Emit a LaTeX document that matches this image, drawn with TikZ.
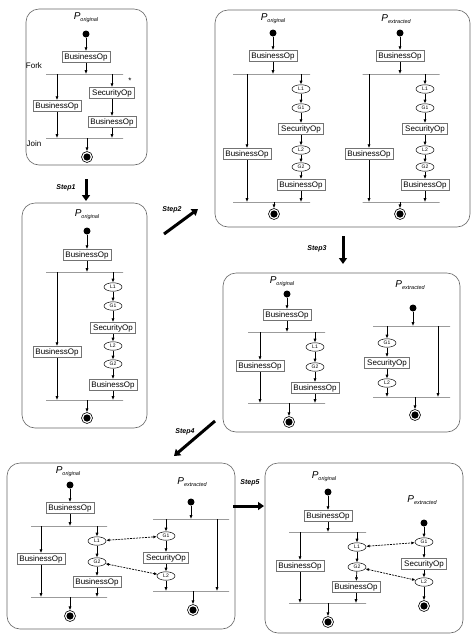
\documentclass[tikz,border=0pt]{standalone}
\usepackage{fontspec}
\setmainfont{Liberation Sans}
\usetikzlibrary{arrows.meta,shapes.geometric}

\newcommand{\psub}[1]{\raisebox{-1.8pt}{\fontsize{5.5}{6}\selectfont #1}}

\tikzset{
  panel/.style={draw=black!60, line width=0.6pt, rounded corners=13pt},
  op/.style={draw=black!55, line width=0.8pt, fill=white, inner xsep=2.5pt, inner ysep=1.5pt,
    minimum height=11pt, font=\fontsize{8}{9}\selectfont},
  guard/.style={ellipse, draw, line width=0.5pt, fill=white, minimum width=18pt, minimum height=8.5pt,
    inner sep=0pt, font=\fontsize{5}{5}\selectfont},
  init/.style={circle, fill, minimum size=7pt, inner sep=0pt},
  final/.style={circle, draw, line width=0.6pt, minimum size=11pt, inner sep=0pt,
    path picture={\fill (path picture bounding box.center) circle (3.6pt);}},
  bar/.style={draw=black!60, line width=0.9pt, minimum height=0pt, minimum width=77pt, inner sep=0pt},
  plabel/.style={font=\fontsize{10}{11}\selectfont\itshape, inner sep=0pt},
  txt/.style={font=\fontsize{8}{9}\selectfont, inner sep=0pt},
  steplbl/.style={font=\fontsize{7}{8}\selectfont\bfseries\itshape, inner sep=0pt},
  flow/.style={-{Latex[length=3.8pt,width=3.2pt]}, line width=0.7pt},
  link/.style={{Latex[length=3.5pt,width=3pt]}-{Latex[length=3.5pt,width=3pt]}, line width=0.7pt,
    dash pattern=on 2pt off 1pt},
  stepar/.style={-{Triangle[length=6pt,width=8pt]}, line width=3pt}
}

\begin{document}
\begin{tikzpicture}[x=1pt,y=-1pt]
\useasboundingbox (0,0) rectangle (474,641);

% frames
\draw[panel] (26,9) rectangle (147,165);
\draw[panel] (22,203) rectangle (147,428);
\draw[panel] (215,10) rectangle (470,227);
\draw[panel] (223,273) rectangle (460,432);
\draw[panel] (7,463) rectangle (235,629);
\draw[panel] (265,463) rectangle (463,633);

% ---- first process
\node[plabel] (pA) at (86,18) {P\psub{original}};
\node[init] (sA) at (86,34) {};
\node[op] (bA1) at (86,57) {BusinessOp};
\node[bar] (forkA) at (84.5,74) {};
\node[txt] (forkLbl) at (34,66) {Fork};
\node[op] (bA2) at (57,106) {BusinessOp};
\node[op] (secA) at (112,93) {SecurityOp};
\node[txt] (star) at (130,81) {*};
\node[op] (bA3) at (112,122) {BusinessOp};
\node[bar] (joinA) at (84.5,138) {};
\node[txt] (joinLbl) at (34,144) {Join};
\node[final] (eA) at (87,157) {};
\draw[flow] (sA) -- (bA1);
\draw[flow] (bA1) -- (bA1 |- forkA);
\draw[flow] (bA2 |- forkA) -- (bA2);
\draw[flow] (secA |- forkA) -- (secA);
\draw[flow] (secA) -- (bA3);
\draw[flow] (bA2) -- (bA2 |- joinA);
\draw[flow] (bA3) -- (bA3 |- joinA);
\draw[flow] (eA |- joinA) -- (eA);

% step 1
\node[steplbl] (st1) at (66,188) {Step1};
\coordinate (st1a) at (86,179);
\coordinate (st1b) at (86,201);
\draw[stepar] (st1a) -- (st1b);

% ---- after step 1
\node[plabel] (pB) at (87,215) {P\psub{original}};
\node[init] (sB) at (87,231) {};
\node[op] (bB1) at (87,255) {BusinessOp};
\node[bar] (forkB) at (84.5,272) {};
\node[op] (bB2) at (57,352) {BusinessOp};
\node[guard] (lB1) at (113,287) {L1};
\node[guard] (gB1) at (113,306) {G1};
\node[op] (secB) at (113,328) {SecurityOp};
\node[guard] (lB2) at (113,346) {L2};
\node[guard] (gB2) at (113,364) {G2};
\node[op] (bB3) at (113,385) {BusinessOp};
\node[bar] (joinB) at (84.5,400) {};
\node[final] (eB) at (87,418) {};
\draw[flow] (sB) -- (bB1);
\draw[flow] (bB1) -- (bB1 |- forkB);
\draw[flow] (bB2 |- forkB) -- (bB2);
\draw[flow] (lB1 |- forkB) -- (lB1);
\draw[flow] (lB1) -- (gB1);
\draw[flow] (gB1) -- (secB);
\draw[flow] (secB) -- (lB2);
\draw[flow] (lB2) -- (gB2);
\draw[flow] (gB2) -- (bB3);
\draw[flow] (bB2) -- (bB2 |- joinB);
\draw[flow] (bB3) -- (bB3 |- joinB);
\draw[flow] (eB |- joinB) -- (eB);

% step 2
\node[steplbl] (st2) at (172,210) {Step2};
\coordinate (st2a) at (164,234);
\coordinate (st2b) at (198,209);
\draw[stepar] (st2a) -- (st2b);

% ---- after step 2
\node[plabel] (pC1) at (273,19) {P\psub{original}};
\node[init] (sC1) at (273,33) {};
\node[op] (bC1) at (273,56) {BusinessOp};
\node[bar] (forkC1) at (271.5,74) {};
\node[op] (bC2) at (247,154) {BusinessOp};
\node[guard] (lC1) at (301,89) {L1};
\node[guard] (gC1) at (301,108) {G1};
\node[op] (secC1) at (301,129) {SecurityOp};
\node[guard] (lC2) at (301,150) {L2};
\node[guard] (gC2) at (301,167) {G2};
\node[op] (bC3) at (301,185) {BusinessOp};
\node[bar] (joinC1) at (271.5,202) {};
\node[final] (eC1) at (274,214) {};
\draw[flow] (sC1) -- (bC1);
\draw[flow] (bC1) -- (bC1 |- forkC1);
\draw[flow] (bC2 |- forkC1) -- (bC2);
\draw[flow] (lC1 |- forkC1) -- (lC1);
\draw[flow] (lC1) -- (gC1);
\draw[flow] (gC1) -- (secC1);
\draw[flow] (secC1) -- (lC2);
\draw[flow] (lC2) -- (gC2);
\draw[flow] (gC2) -- (bC3);
\draw[flow] (bC2) -- (bC2 |- joinC1);
\draw[flow] (bC3) -- (bC3 |- joinC1);
\draw[flow] (eC1 |- joinC1) -- (eC1);

\node[plabel] (pC2) at (396,19) {P\psub{extracted}};
\node[init] (sC2) at (400,33) {};
\node[op] (bC4) at (400,56) {BusinessOp};
\node[bar] (forkC2) at (401,74) {};
\node[op] (bC5) at (369,154) {BusinessOp};
\node[guard] (lC3) at (425,89) {L1};
\node[guard] (gC3) at (425,108) {G1};
\node[op] (secC2) at (425,129) {SecurityOp};
\node[guard] (lC4) at (425,150) {L2};
\node[guard] (gC4) at (425,167) {G2};
\node[op] (bC6) at (425,185) {BusinessOp};
\node[bar] (joinC2) at (401,202) {};
\node[final] (eC2) at (400,214) {};
\draw[flow] (sC2) -- (bC4);
\draw[flow] (bC4) -- (bC4 |- forkC2);
\draw[flow] (bC5 |- forkC2) -- (bC5);
\draw[flow] (lC3 |- forkC2) -- (lC3);
\draw[flow] (lC3) -- (gC3);
\draw[flow] (gC3) -- (secC2);
\draw[flow] (secC2) -- (lC4);
\draw[flow] (lC4) -- (gC4);
\draw[flow] (gC4) -- (bC6);
\draw[flow] (bC5) -- (bC5 |- joinC2);
\draw[flow] (bC6) -- (bC6 |- joinC2);
\draw[flow] (eC2 |- joinC2) -- (eC2);

% step 3
\node[steplbl] (st3) at (317,249) {Step3};
\coordinate (st3a) at (343,236);
\coordinate (st3b) at (343,264);
\draw[stepar] (st3a) -- (st3b);

% ---- after step 3
\node[plabel] (pD1) at (282,282) {P\psub{original}};
\node[init] (sD1) at (287,294) {};
\node[op] (bD1) at (287,315) {BusinessOp};
\node[bar] (forkD1) at (286.5,332) {};
\node[op] (bD2) at (260,366) {BusinessOp};
\node[guard] (lD1) at (315,347) {L1};
\node[guard] (gD1) at (315,367) {G2};
\node[op] (bD3) at (315,388) {BusinessOp};
\node[bar] (joinD1) at (286.5,403) {};
\node[final] (eD1) at (289,422) {};
\draw[flow] (sD1) -- (bD1);
\draw[flow] (bD1) -- (bD1 |- forkD1);
\draw[flow] (bD2 |- forkD1) -- (bD2);
\draw[flow] (lD1 |- forkD1) -- (lD1);
\draw[flow] (lD1) -- (gD1);
\draw[flow] (gD1) -- (bD3);
\draw[flow] (bD2) -- (bD2 |- joinD1);
\draw[flow] (bD3) -- (bD3 |- joinD1);
\draw[flow] (eD1 |- joinD1) -- (eD1);

\node[plabel] (pD2) at (410,285) {P\psub{extracted}};
\node[init] (sD2) at (413,308) {};
\node[bar] (forkD2) at (411.5,326) {};
\node[guard] (gD2) at (387,343) {G1};
\node[op] (secD) at (387,363) {SecurityOp};
\node[guard] (lD2) at (387,383) {L2};
\node[bar] (joinD2) at (411.5,397) {};
\node[final] (eD2) at (415,415) {};
\coordinate (rD) at (438,326);
\draw[flow] (sD2) -- (sD2 |- forkD2);
\draw[flow] (gD2 |- forkD2) -- (gD2);
\draw[flow] (gD2) -- (secD);
\draw[flow] (secD) -- (lD2);
\draw[flow] (lD2) -- (lD2 |- joinD2);
\draw[flow] (rD) -- (rD |- joinD2);
\draw[flow] (eD2 |- joinD2) -- (eD2);

% step 4
\node[steplbl] (st4) at (185,432) {Step4};
\coordinate (st4a) at (215,421);
\coordinate (st4b) at (174,456);
\draw[stepar] (st4a) -- (st4b);

% ---- after step 4
\node[plabel] (pE1) at (68,472) {P\psub{original}};
\node[init] (sE1) at (70,485) {};
\node[op] (bE1) at (70,508) {BusinessOp};
\node[bar, minimum width=76pt] (forkE1) at (69,526) {};
\node[op] (bE2) at (41,559) {BusinessOp};
\node[guard] (lE1) at (97,541) {L1};
\node[guard] (gE1) at (97,562) {G2};
\node[op] (bE3) at (97,582) {BusinessOp};
\node[bar, minimum width=76pt] (joinE1) at (69,597) {};
\node[final] (eE1) at (70,616) {};
\draw[flow] (sE1) -- (bE1);
\draw[flow] (bE1) -- (bE1 |- forkE1);
\draw[flow] (bE2 |- forkE1) -- (bE2);
\draw[flow] (lE1 |- forkE1) -- (lE1);
\draw[flow] (lE1) -- (gE1);
\draw[flow] (gE1) -- (bE3);
\draw[flow] (bE2) -- (bE2 |- joinE1);
\draw[flow] (bE3) -- (bE3 |- joinE1);
\draw[flow] (eE1 |- joinE1) -- (eE1);

\node[plabel] (pE2) at (192,482) {P\psub{extracted}};
\node[init] (sE2) at (191,502) {};
\node[bar, minimum width=76pt] (forkE2) at (191,519) {};
\node[guard] (gE2) at (166,536) {G1};
\node[op] (secE) at (166,558) {SecurityOp};
\node[guard] (lE2) at (166,576) {L2};
\node[bar, minimum width=76pt] (joinE2) at (191,591) {};
\node[final] (eE2) at (193,610) {};
\coordinate (rE) at (217,519);
\draw[flow] (sE2) -- (sE2 |- forkE2);
\draw[flow] (gE2 |- forkE2) -- (gE2);
\draw[flow] (gE2) -- (secE);
\draw[flow] (secE) -- (lE2);
\draw[flow] (lE2) -- (lE2 |- joinE2);
\draw[flow] (rE) -- (rE |- joinE2);
\draw[flow] (eE2 |- joinE2) -- (eE2);
\draw[link] (lE1) -- (gE2);
\draw[link] (gE1) -- (lE2);

% step 5
\node[steplbl] (st5) at (250,483) {Step5};
\coordinate (st5a) at (233,506);
\coordinate (st5b) at (264,506);
\draw[stepar] (st5a) -- (st5b);

% ---- after step 5
\node[plabel] (pF1) at (324,477) {P\psub{original}};
\node[init] (sF1) at (328,492) {};
\node[op] (bF1) at (328,516) {BusinessOp};
\node[bar] (forkF) at (327.5,532) {};
\node[op] (bF2) at (300,566) {BusinessOp};
\node[guard] (lF1) at (357,547) {L1};
\node[guard] (gF1) at (357,567) {G2};
\node[op] (bF3) at (356,587) {BusinessOp};
\node[bar] (joinF) at (327.5,603) {};
\node[final] (eF1) at (328,622) {};
\draw[flow] (sF1) -- (bF1);
\draw[flow] (bF1) -- (bF1 |- forkF);
\draw[flow] (bF2 |- forkF) -- (bF2);
\draw[flow] (lF1 |- forkF) -- (lF1);
\draw[flow] (lF1) -- (gF1);
\draw[flow] (gF1) -- (bF3);
\draw[flow] (bF2) -- (bF2 |- joinF);
\draw[flow] (bF3) -- (bF3 |- joinF);
\draw[flow] (eF1 |- joinF) -- (eF1);

\node[plabel] (pF2) at (422,500) {P\psub{extracted}};
\node[init] (sF2) at (424,523) {};
\node[guard] (gF2) at (424,542) {G1};
\node[op] (secF) at (424,564) {SecurityOp};
\node[guard] (lF2) at (424,582) {L2};
\node[final] (eF2) at (424,606) {};
\draw[flow] (sF2) -- (gF2);
\draw[flow] (gF2) -- (secF);
\draw[flow] (secF) -- (lF2);
\draw[flow] (lF2) -- (eF2);
\draw[link] (lF1) -- (gF2);
\draw[link] (gF1) -- (lF2);
\end{tikzpicture}
\end{document}
